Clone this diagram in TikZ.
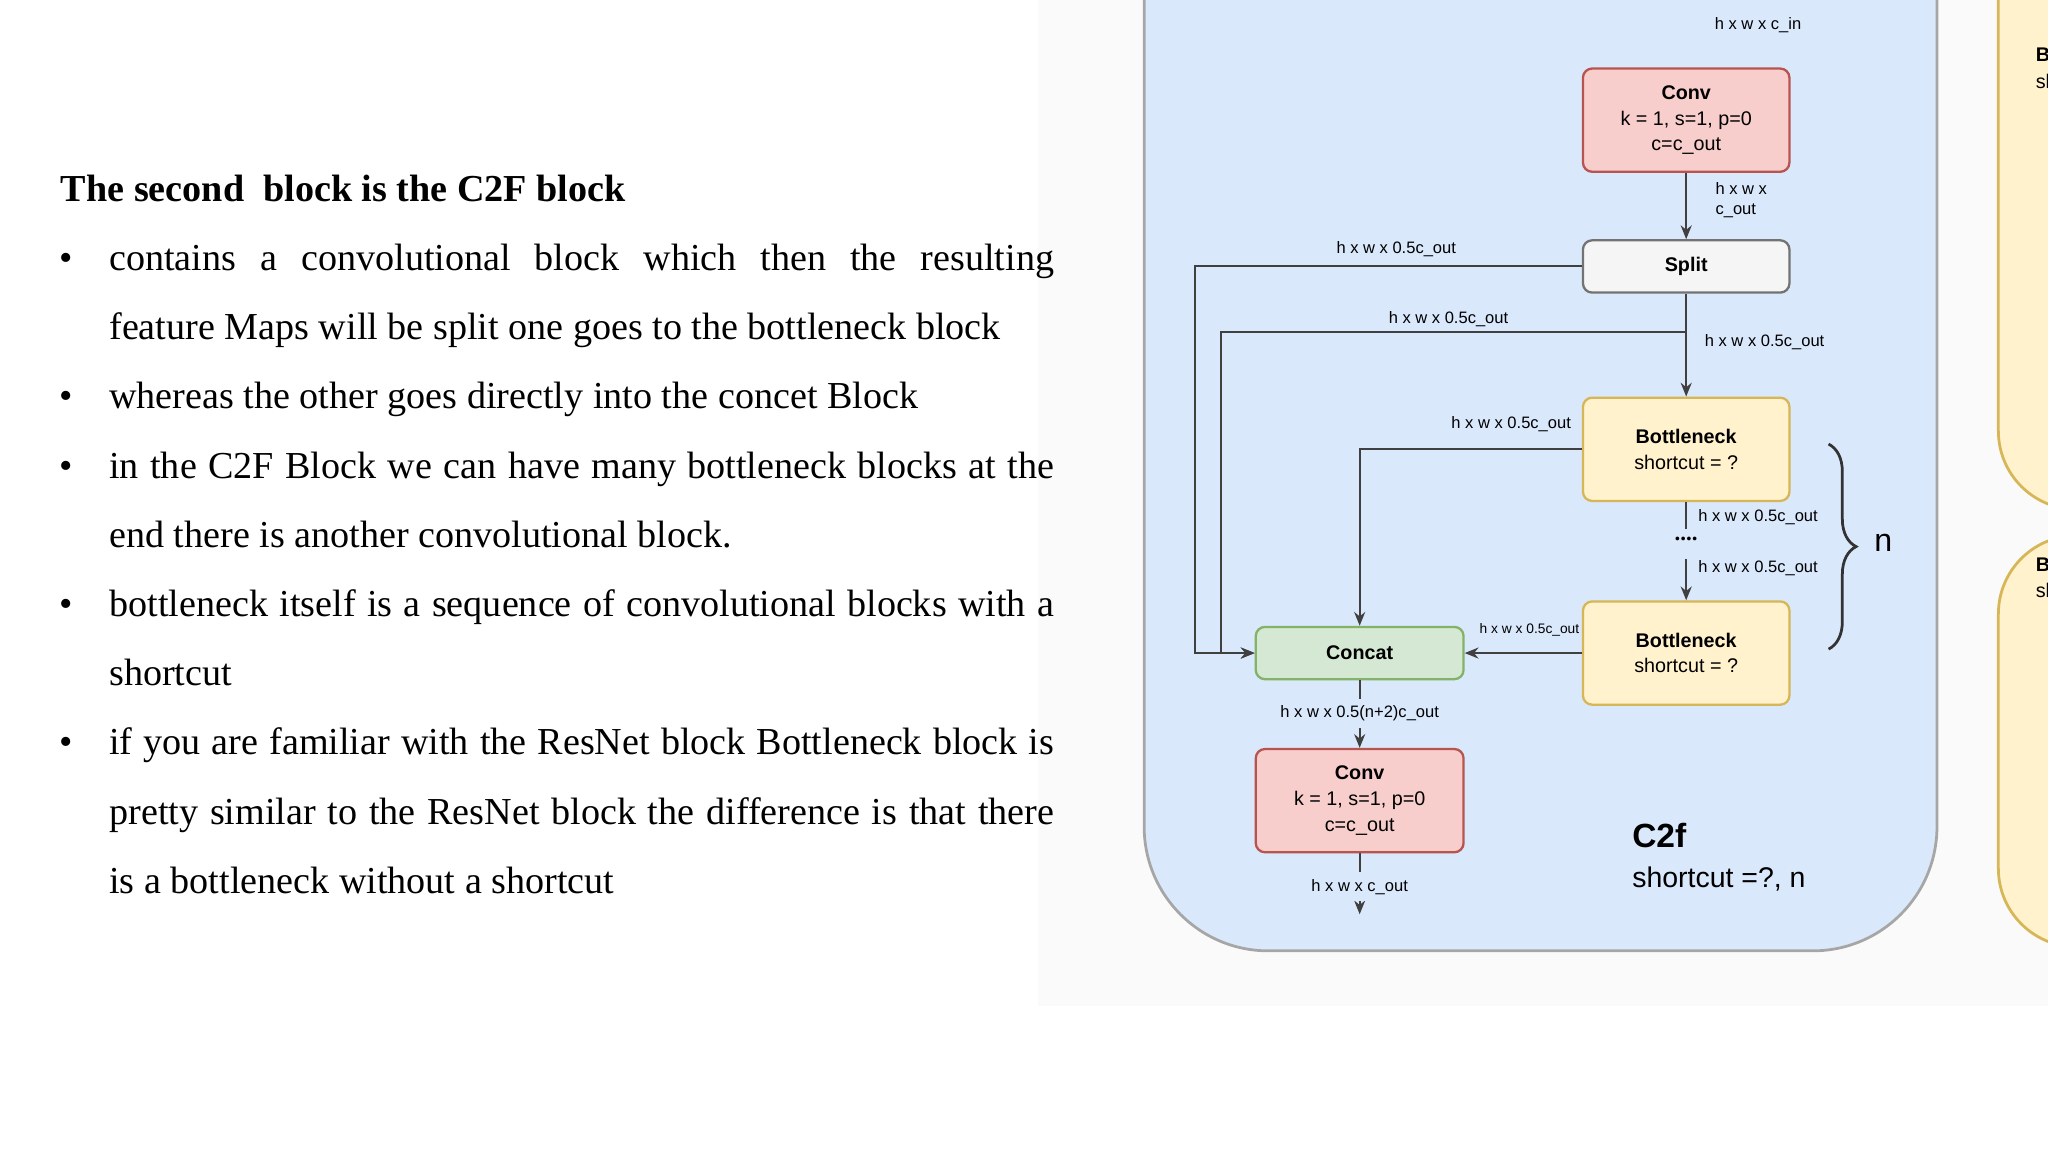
\documentclass[tikz,border=0pt]{standalone}
\usepackage{fontspec}
\setmainfont{Liberation Serif}
\newfontfamily\diafont{Liberation Sans}
\usetikzlibrary{arrows.meta,positioning,decorations.pathreplacing}
\definecolor{bluebg}{HTML}{DAE8FC}
\definecolor{redfill}{HTML}{F8CECC}\definecolor{redline}{HTML}{B85450}
\definecolor{yelfill}{HTML}{FFF2CC}\definecolor{yelline}{HTML}{D6B656}
\definecolor{grnfill}{HTML}{D5E8D4}\definecolor{grnline}{HTML}{82B366}
\tikzstyle{block}=[draw,rounded corners=2pt,line width=0.5pt,minimum width=1.58cm,align=center,font=\diafont\fontsize{4.3}{5.6}\selectfont,inner sep=1pt]
\tikzstyle{conv}=[block,fill=redfill,draw=redline,minimum height=0.79cm]
\tikzstyle{bneck}=[block,fill=yelfill,draw=yelline,minimum height=0.79cm]
\tikzstyle{dim}=[font=\diafont\fontsize{3.6}{4.3}\selectfont,inner sep=0.5pt,align=left]
\tikzstyle{flow}=[draw=black!75,line width=0.45pt,-{Stealth[length=3pt,width=2.4pt]}]
\tikzstyle{txt}=[anchor=base west,inner sep=0,font=\fontsize{8.3}{9}\selectfont]
\newcommand{\jline}[1]{\makebox[7.23cm][s]{#1}}
\begin{document}
\begin{tikzpicture}[x=0.01cm,y=-0.01cm]
  \useasboundingbox (0,0) rectangle (1568,882);
  % background panels
  \fill[black!2] (795,0) rectangle (1568,770);
  \draw[fill=bluebg,draw=black!35,line width=0.6pt,rounded corners=0.95cm] (876,-100) rectangle (1483,728);
  \begin{scope}
    \clip (1520,0) rectangle (1568,882);
    \draw[fill=yelfill,draw=yelline,line width=0.6pt,rounded corners=0.6cm] (1530,-60) rectangle (1800,390);
    \draw[fill=yelfill,draw=yelline,line width=0.6pt,rounded corners=0.6cm] (1530,410) rectangle (1800,725);
  \end{scope}
  \node[font=\diafont\bfseries\fontsize{4.3}{5}\selectfont,anchor=west,inner sep=0] (ba) at (1558,42) {B};
  \node[font=\diafont\fontsize{4.3}{5}\selectfont,anchor=west,inner sep=0] (sa) at (1558,62) {sl};
  \node[font=\diafont\bfseries\fontsize{4.3}{5}\selectfont,anchor=west,inner sep=0] (bb) at (1558,432) {B};
  \node[font=\diafont\fontsize{4.3}{5}\selectfont,anchor=west,inner sep=0] (sb) at (1558,452) {sl};

  % left text
  \node[txt,font=\fontsize{8.3}{9}\selectfont\bfseries] (title) at (46,154) {The second\ \ block is the C2F block};
  \foreach \yy in {198,304,357,463,569}
    \node[txt] at (45,\yy+9) {\textbullet};
  \node[txt] (l1) at (83,207) {\jline{contains a convolutional block which then the resulting}};
  \node[txt] (l2) at (83,260) {feature Maps will be split one goes to the bottleneck block};
  \node[txt] (l3) at (83,313) {whereas the other goes directly into the concet Block};
  \node[txt] (l4) at (83,366) {\jline{in the C2F Block we can have many bottleneck blocks at the}};
  \node[txt] (l5) at (83,419) {end there is another convolutional block.};
  \node[txt] (l6) at (83,472) {\jline{bottleneck itself is a sequence of convolutional blocks with a}};
  \node[txt] (l7) at (83,525) {shortcut};
  \node[txt] (l8) at (83,578) {\jline{if you are familiar with the ResNet block Bottleneck block is}};
  \node[txt] (l9) at (83,631) {\jline{pretty similar to the ResNet block the difference is that there}};
  \node[txt] (l10) at (83,684) {is a bottleneck without a shortcut};

  % blocks
  \node[conv] (conv1) at (1291,92) {\textbf{Conv}\\k = 1, s=1, p=0\\c=c\_out};
  \node[block,fill=black!4,draw=black!55,minimum height=0.4cm] (split) at (1291,204) {\textbf{Split}};
  \node[bneck] (bn1) at (1291,344) {\textbf{Bottleneck}\\shortcut = ?};
  \node[bneck] (bn2) at (1291,500) {\textbf{Bottleneck}\\shortcut = ?};
  \node[block,fill=grnfill,draw=grnline,minimum width=1.59cm,minimum height=0.4cm] (concat) at (1041,500) {\textbf{Concat}};
  \node[conv,minimum width=1.59cm] (conv2) at (1041,613) {\textbf{Conv}\\k = 1, s=1, p=0\\c=c\_out};
  \coordinate (out) at (1041,700);
  \coordinate (d1) at (1291,405);
  \coordinate (d2) at (1291,428);

  % connectors
  \path[flow] (conv1) -- (split);
  \path[flow] (split) -- (bn1);
  \path[flow] (split.west) -- (915,204) |- (concat.west);
  \path[flow] (1291,254) -- (935,254) |- (concat.west);
  \path[flow] (bn1.west) -| (concat.north);
  \path[flow] (bn2) -- (concat);
  \path[flow] (concat) -- (conv2);
  \path[flow] (conv2) -- (out);
  \draw[draw=black!75,line width=0.45pt] (bn1) -- (d1);
  \path[flow] (d2) -- (bn2);
  \node[font=\bfseries\fontsize{5}{5}\selectfont] (dots) at (1291,413) {....};
  \draw[decorate,decoration={brace,amplitude=6pt},line width=0.6pt,black!80] (1400,340) -- (1400,497);
  \node[font=\diafont\fontsize{7}{8}\selectfont] (n) at (1442,416) {n};

  % dimension labels
  \node[dim] at (1346,19) {h x w x c\_in};
  \node[dim,anchor=west] at (1311,153) {h x w x\\c\_out};
  \node[dim] at (1069,191) {h x w x 0.5c\_out};
  \node[dim] at (1109,244) {h x w x 0.5c\_out};
  \node[dim] at (1351,262) {h x w x 0.5c\_out};
  \node[dim] at (1157,325) {h x w x 0.5c\_out};
  \node[dim] at (1346,396) {h x w x 0.5c\_out};
  \node[dim] at (1346,435) {h x w x 0.5c\_out};
  \node[dim,font=\diafont\fontsize{3}{3.5}\selectfont] at (1171,482) {h x w x 0.5c\_out};
  \node[dim,fill=bluebg,inner sep=1.5pt] at (1041,546) {h x w x 0.5(n+2)c\_out};
  \node[dim,fill=bluebg,inner sep=1.5pt] at (1041,679) {h x w x c\_out};

  \node[anchor=west,inner sep=0,font=\diafont\bfseries\fontsize{7.3}{8}\selectfont] (c2f) at (1249,640) {C2f};
  \node[anchor=west,inner sep=0,font=\diafont\fontsize{6.2}{7}\selectfont] (sc) at (1249,673) {shortcut =?, n};
\end{tikzpicture}
\end{document}
